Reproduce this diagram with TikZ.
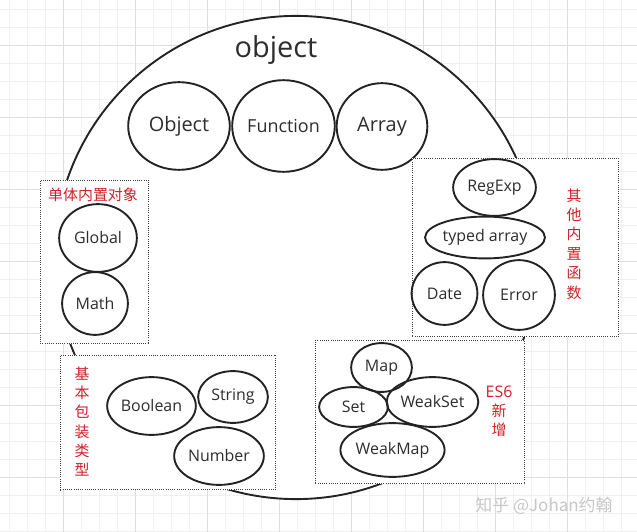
\documentclass[tikz,border=0pt]{standalone}
\usepackage{fontspec}
\setmainfont{Open Sans}
\newfontfamily\cjkfont{Noto Sans CJK SC}
\usetikzlibrary{shapes.geometric}
\definecolor{cred}{RGB}{208,32,40}
\definecolor{ctext}{RGB}{45,45,45}
\definecolor{cline}{RGB}{35,35,35}
\tikzset{
  gridminor/.style={draw=black!6, line width=0.75pt},
  gridmajor/.style={draw=black!13, line width=0.75pt},
  bigc/.style={circle, draw=cline, line width=1.9pt, fill=white, inner sep=0pt},
  dotbox/.style={rectangle, draw=black!75, line width=0.9pt, dash pattern=on 1pt off 1.2pt, fill=white, inner sep=0pt},
  ell/.style={ellipse, draw=cline, line width=1.9pt, inner sep=0pt, text=ctext, font=\fontsize{16}{19}\selectfont},
  bigell/.style={ell, font=\fontsize{20}{24}\selectfont},
  redtxt/.style={text=cred, font=\cjkfont\fontsize{15}{19.5}\selectfont, align=center, inner sep=0pt},
}
\begin{document}
\begin{tikzpicture}[x=1bp, y=-1bp]
\useasboundingbox (0,0) rectangle (637,532);
\fill[white] (0,0) rectangle (637,532);
% grid
\foreach \i in {0,...,34} { \draw[gridminor] (9+18*\i,0) -- (9+18*\i,532); }
\foreach \i in {0,...,29} { \draw[gridminor] (0,9+18*\i) -- (637,9+18*\i); }
\foreach \i in {0,...,7} { \draw[gridmajor] (63+72*\i,0) -- (63+72*\i,532); }
\foreach \i in {0,...,6} { \draw[gridmajor] (0,45+72*\i) -- (637,45+72*\i); }

% big container
\node[bigc, minimum size=485] (obj) at (296,257.5) {};
\node[inner sep=0pt, text=ctext, font=\fontsize{29}{34}\selectfont] (objlbl) at (276,50) {object};

% top ellipses
\node[bigell, minimum width=102, minimum height=88] (Object) at (179,126) {Object};
\node[ell, font=\fontsize{18}{21}\selectfont, minimum width=103, minimum height=92] (Function) at (283.5,126) {Function};
\node[bigell, minimum width=91, minimum height=87] (Array) at (382,126.5) {Array};

% boxes
\node[dotbox, minimum width=109, minimum height=164] (box1) at (94.5,262) {};
\node[dotbox, minimum width=207, minimum height=179] (box2) at (515.5,247.5) {};
\node[dotbox, minimum width=216, minimum height=135] (box3) at (168,422.5) {};
\node[dotbox, minimum width=210, minimum height=144] (box4) at (420,412) {};

% box 1
\node[redtxt] (t1) at (93,195) {单体内置对象};
\node[ell, minimum width=78, minimum height=68] (Global) at (98,238) {Global};
\node[ell, minimum width=66, minimum height=63] (Math) at (95,303.5) {Math};

% box 2
\node[ell, minimum width=83, minimum height=57] (RegExp) at (494.5,187.5) {RegExp};
\node[ell, minimum width=118, minimum height=42] (typed) at (485,237.5) {typed array};
\node[ell, minimum width=66, minimum height=63] (Date) at (444.5,293.5) {Date};
\node[ell, minimum width=72, minimum height=70] (Error) at (519,295) {Error};
\node[redtxt] (t2) at (574,244) {其\\他\\内\\置\\函\\数};

% box 3
\node[redtxt, font=\cjkfont\fontsize{15}{19.4}\selectfont] (t3) at (82,421.5) {基\\本\\包\\装\\类\\型};
\node[ell, minimum width=89, minimum height=58] (Boolean) at (151.5,406) {Boolean};
\node[ell, minimum width=70, minimum height=52] (String) at (233,397) {String};
\node[ell, minimum width=90, minimum height=58] (Number) at (219,456) {Number};

% box 4
\node[ell, minimum width=61, minimum height=49] (Map) at (381.5,367.5) {Map};
\node[ell, minimum width=69, minimum height=40] (Set) at (353.5,407) {Set};
\node[ell, minimum width=92, minimum height=50] (WeakSet) at (432.5,402) {WeakSet};
\node[ell, minimum width=102, minimum height=54] (WeakMap) at (392.5,450) {WeakMap};
\node[redtxt, font=\cjkfont\fontsize{15}{19}\selectfont] (t4) at (499,411) {{\rmfamily\fontsize{16}{19}\selectfont ES6}\\新\\增};

% watermark
\node[inner sep=0pt, text=black!22, font=\cjkfont\fontsize{17}{20}\selectfont] (wm) at (544,506) {知乎 @Johan约翰};
\end{tikzpicture}
\end{document}
